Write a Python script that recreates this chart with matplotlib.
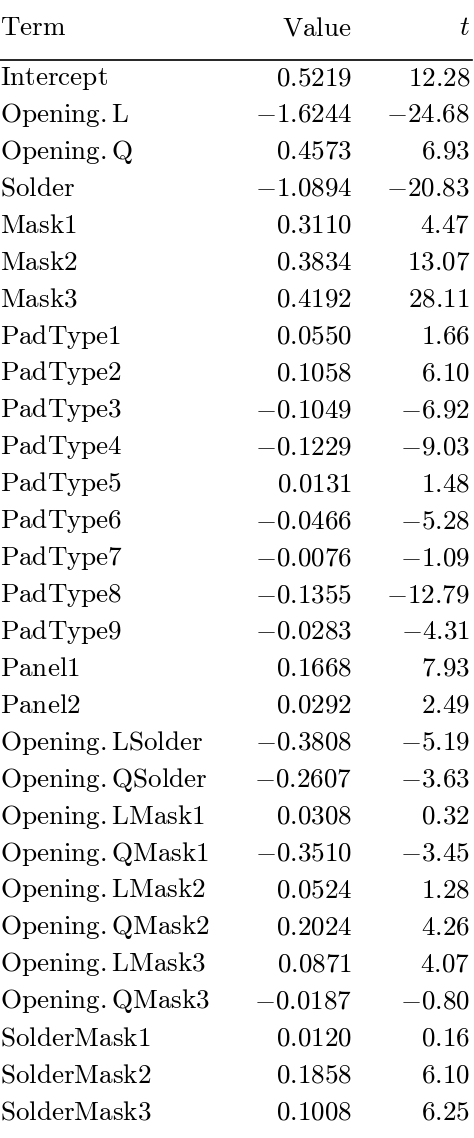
import matplotlib.pyplot as plt
from matplotlib.lines import Line2D

plt.rcParams['mathtext.fontset'] = 'cm'

terms = ["Intercept", "Opening.L", "Opening.Q", "Solder", "Mask1", "Mask2", "Mask3",
         "PadType1", "PadType2", "PadType3", "PadType4", "PadType5", "PadType6",
         "PadType7", "PadType8", "PadType9", "Panel1", "Panel2",
         "Opening.LSolder", "Opening.QSolder", "Opening.LMask1", "Opening.QMask1",
         "Opening.LMask2", "Opening.QMask2", "Opening.LMask3", "Opening.QMask3",
         "SolderMask1", "SolderMask2", "SolderMask3"]
values = ["0.5219", "-1.6244", "0.4573", "-1.0894", "0.3110", "0.3834", "0.4192",
          "0.0550", "0.1058", "-0.1049", "-0.1229", "0.0131", "-0.0466",
          "-0.0076", "-0.1355", "-0.0283", "0.1668", "0.0292",
          "-0.3808", "-0.2607", "0.0308", "-0.3510", "0.0524", "0.2024",
          "0.0871", "-0.0187", "0.0120", "0.1858", "0.1008"]
tvals = ["12.28", "-24.68", "6.93", "-20.83", "4.47", "13.07", "28.11",
         "1.66", "6.10", "-6.92", "-9.03", "1.48", "-5.28", "-1.09", "-12.79",
         "-4.31", "7.93", "2.49", "-5.19", "-3.63", "0.32", "-3.45", "1.28",
         "4.26", "4.07", "-0.80", "0.16", "6.10", "6.25"]

W, H = 474, 1138
fig = plt.figure(figsize=(W / 100, H / 100), dpi=100)
fs = 19.5

def px(x, y):
    return x / W, 1 - y / H

def txt(x, y, s, ha):
    fig.text(*px(x, y), s, ha=ha, va='center', fontsize=fs)

txt(0, 28, r'$\mathrm{Term}$', 'left')
txt(352, 28, r'$\mathrm{Value}$', 'right')
txt(470, 28, r'$t$', 'right')
fig.add_artist(Line2D([0, 472 / W], [1 - 60 / H] * 2, color='black', lw=1.2))

y0, dy = 78, 36.93
for i, (a, b, c) in enumerate(zip(terms, values, tvals)):
    y = y0 + i * dy
    txt(0, y, r'$\mathrm{' + a.replace('.', '{.}') + '}$', 'left')
    txt(352, y, '$' + b + '$', 'right')
    txt(470, y, '$' + c + '$', 'right')

fig.savefig('out.png', dpi=100, facecolor='white')
